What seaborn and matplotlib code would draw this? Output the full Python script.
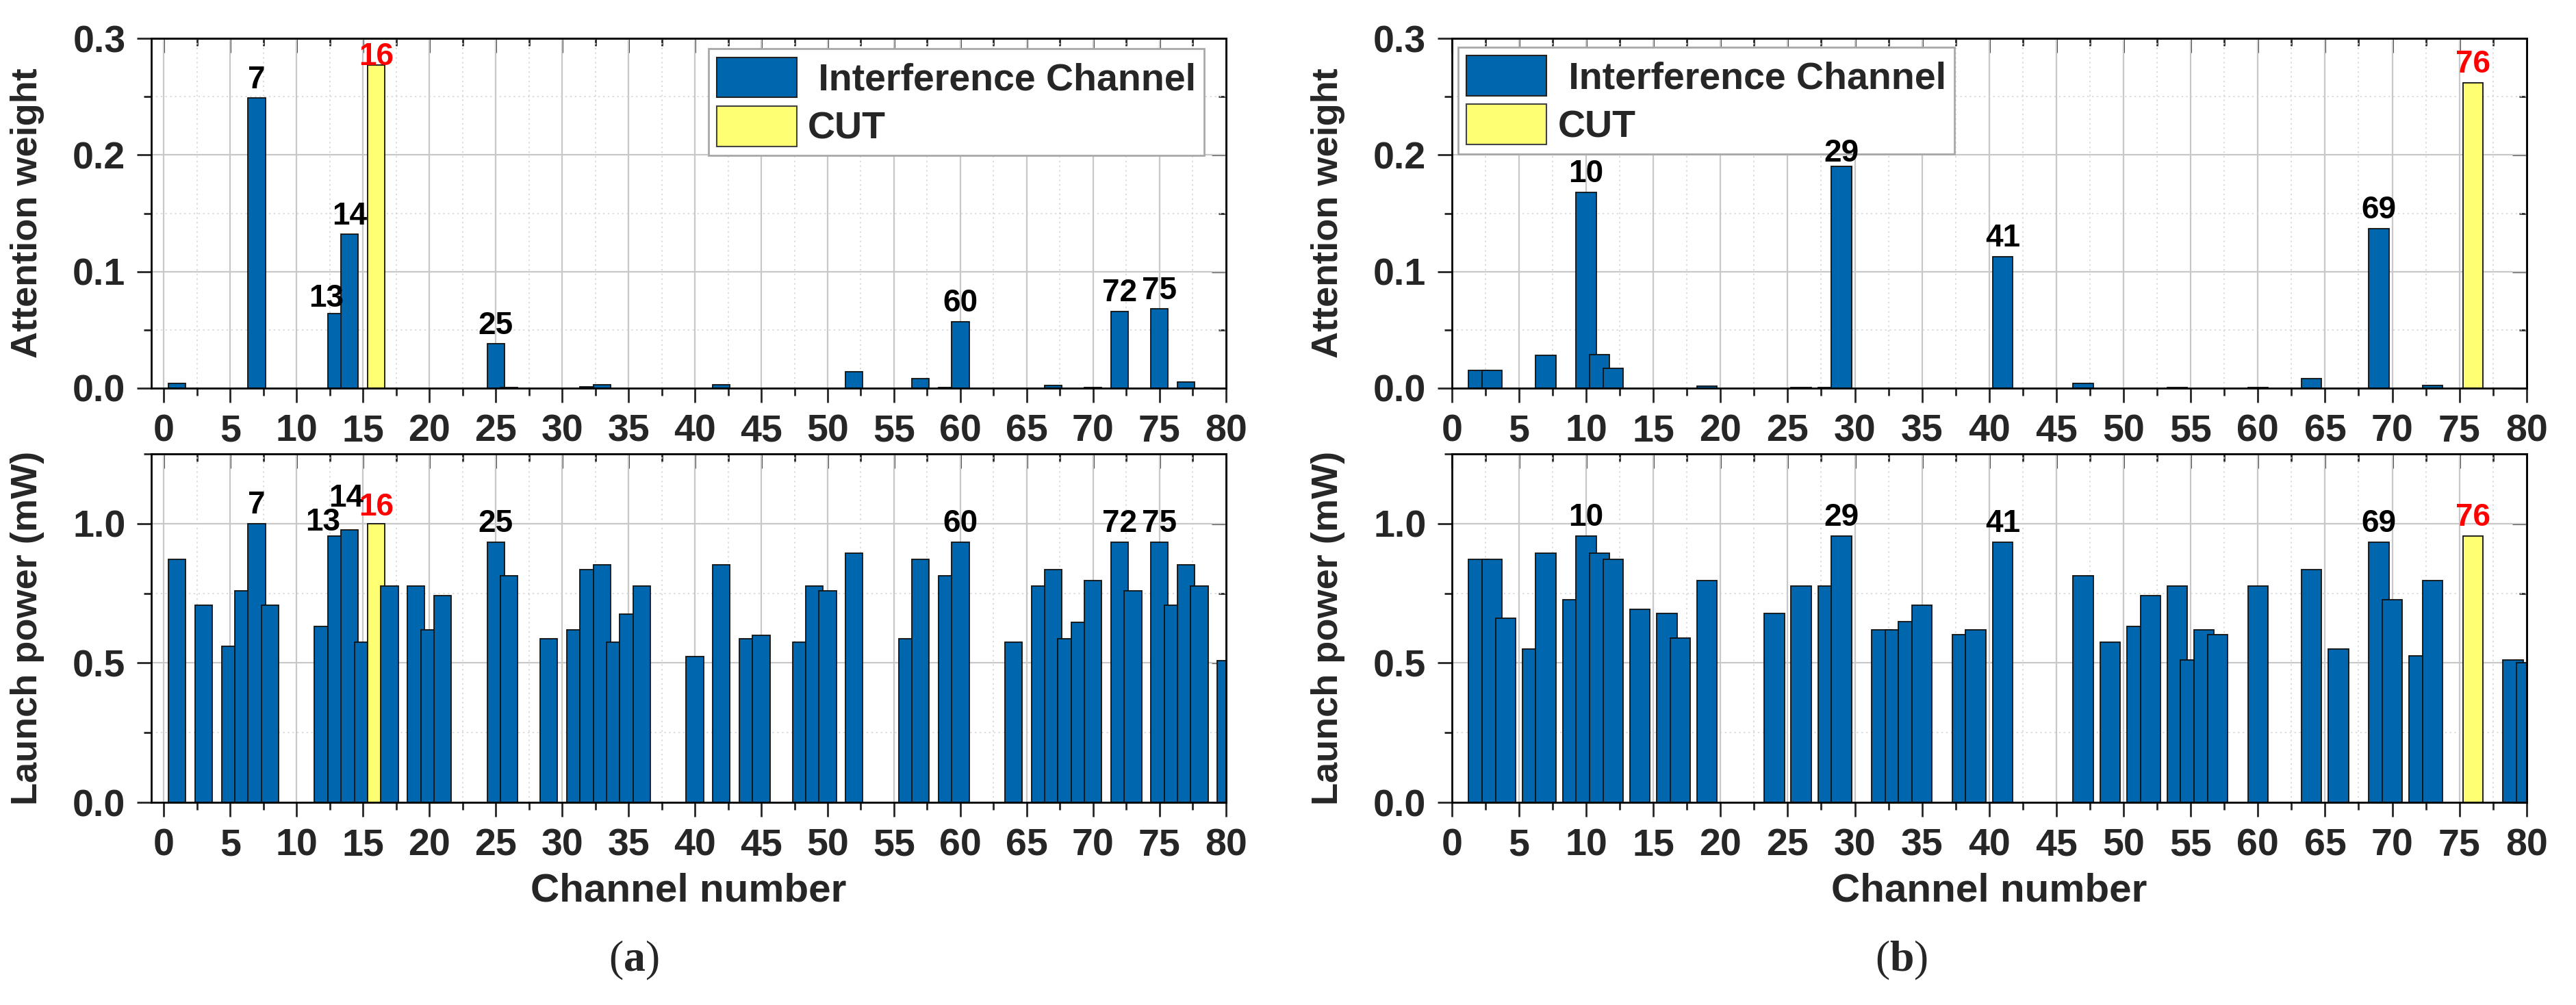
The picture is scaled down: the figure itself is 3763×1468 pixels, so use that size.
#!/usr/bin/env python3
# -*- coding: utf-8 -*-
"""
Attention weights and launch powers per channel for two CUT examples,
(a) CUT = channel 16 and (b) CUT = channel 76.
"""

#%% Imports

import pandas as pd
import seaborn as sns
from matplotlib import pyplot as plt
from matplotlib.patches import Patch
from matplotlib.ticker import MultipleLocator

#%% Data

# (a) CUT = 16
ATT_A_CH = [1, 7, 13, 14, 16, 25, 26, 32, 33, 42, 52, 57, 59, 60, 67, 70, 72, 75, 77]
ATT_A_VAL = [0.004, 0.249, 0.064, 0.132, 0.277, 0.038, 0.0005, 0.001, 0.003, 0.003,
             0.014, 0.008, 0.0005, 0.057, 0.0025, 0.0005, 0.066, 0.068, 0.0055]

POW_A_CH = [1, 3, 5, 6, 7, 8, 12, 13, 14, 15, 16, 17, 19, 20, 21, 25, 26, 29, 31, 32,
            33, 34, 35, 36, 40, 42, 44, 45, 48, 49, 50, 52, 56, 57, 59, 60, 64, 66, 67,
            68, 69, 70, 72, 73, 75, 76, 77, 78, 80]
POW_A_VAL = [0.872, 0.708, 0.561, 0.759, 1.0, 0.708, 0.632, 0.956, 0.977, 0.575, 1.0,
             0.777, 0.777, 0.618, 0.741, 0.934, 0.814, 0.588, 0.618, 0.834, 0.852, 0.575,
             0.675, 0.777, 0.523, 0.851, 0.588, 0.600, 0.575, 0.777, 0.759, 0.894, 0.588,
             0.872, 0.814, 0.934, 0.575, 0.777, 0.834, 0.588, 0.646, 0.795, 0.934, 0.759,
             0.934, 0.708, 0.851, 0.777, 0.509]

CUT_A = 16
LABELS_A = [7, 13, 14, 16, 25, 60, 72, 75]

# (b) CUT = 76
ATT_B_CH = [2, 3, 7, 10, 11, 12, 19, 26, 28, 29, 41, 47, 54, 60, 64, 69, 73, 76]
ATT_B_VAL = [0.015, 0.015, 0.028, 0.168, 0.029, 0.017, 0.002, 0.0008, 0.0008, 0.190,
             0.113, 0.004, 0.0008, 0.0008, 0.008, 0.137, 0.0025, 0.262]

POW_B_CH = [2, 3, 4, 6, 7, 9, 10, 11, 12, 14, 16, 17, 19, 24, 26, 28, 29, 32, 33, 34,
            35, 38, 39, 41, 47, 49, 51, 52, 54, 55, 56, 57, 60, 64, 66, 69, 70, 72, 73,
            76, 79, 80]
POW_B_VAL = [0.872, 0.872, 0.660, 0.550, 0.894, 0.726, 0.956, 0.894, 0.872, 0.693,
             0.677, 0.589, 0.795, 0.677, 0.777, 0.777, 0.956, 0.618, 0.618, 0.648,
             0.708, 0.602, 0.618, 0.934, 0.814, 0.575, 0.632, 0.741, 0.777, 0.512,
             0.618, 0.602, 0.777, 0.834, 0.550, 0.934, 0.726, 0.525, 0.795, 0.956,
             0.512, 0.500]

CUT_B = 76
LABELS_B = [10, 29, 41, 69, 76]

#%% Style

BLUE = '#0066AD'
YELLOW = '#FFFF73'
KINDS = ['Interference Channel', 'CUT']
PALETTE = {'Interference Channel': BLUE, 'CUT': YELLOW}

TICK_FS = 40
YLABEL_FS = 39
XLABEL_FS = 42
ANNOT_FS = 33
LEGEND_FS = 40

sns.set_style('ticks')
plt.rcParams['font.family'] = ['Liberation Sans', 'DejaVu Sans']
plt.rcParams['font.weight'] = 'bold'
plt.rcParams['axes.labelweight'] = 'bold'
plt.rcParams['mathtext.fontset'] = 'custom'
plt.rcParams['mathtext.bf'] = 'Liberation Serif:bold'
plt.rcParams['mathtext.rm'] = 'Liberation Serif'

#%% Functions

def make_frame(channels, values, cut):
    df = pd.DataFrame({'channel': channels, 'value': values})
    df['kind'] = ['CUT' if c == cut else 'Interference Channel' for c in channels]
    return df


def style_axis(ax, xlim, ylim, ymajor, yminor):
    ax.set_xlim(*xlim)
    ax.set_ylim(*ylim)
    ax.xaxis.set_major_locator(MultipleLocator(5))
    ax.xaxis.set_minor_locator(MultipleLocator(2.5))
    ax.yaxis.set_major_locator(MultipleLocator(ymajor))
    ax.yaxis.set_minor_locator(MultipleLocator(yminor))
    ax.yaxis.set_major_formatter('{x:.1f}')
    ax.set_xlabel('')
    ax.set_ylabel('')
    ax.set_axisbelow(True)
    ax.grid(which='major', color='#c8c8c8', lw=1.6)
    ax.grid(which='minor', color='#d2d2d2', lw=1.1, ls=(0, (1.5, 3)))
    for sp in ax.spines.values():
        sp.set_visible(True)
        sp.set_linewidth(2.0)
        sp.set_color('black')
    ax.tick_params(which='major', direction='out', length=15, width=2.0,
                   labelsize=TICK_FS, pad=12)
    ax.tick_params(which='minor', direction='out', length=8, width=2.0)
    for lab in ax.get_xticklabels() + ax.get_yticklabels():
        lab.set_fontweight('bold')

    # mirrored inward ticks on top and right
    top = ax.secondary_xaxis('top')
    top.xaxis.set_major_locator(MultipleLocator(5))
    top.xaxis.set_minor_locator(MultipleLocator(2.5))
    top.tick_params(which='major', direction='in', length=15, width=2.0, labeltop=False)
    top.tick_params(which='minor', direction='in', length=8, width=2.0)
    top.spines['top'].set_linewidth(2.0)
    right = ax.secondary_yaxis('right')
    right.yaxis.set_major_locator(MultipleLocator(ymajor))
    right.yaxis.set_minor_locator(MultipleLocator(yminor))
    right.tick_params(which='major', direction='in', length=15, width=2.0, labelright=False)
    right.tick_params(which='minor', direction='in', length=8, width=2.0)
    right.spines['right'].set_linewidth(2.0)


def draw_bars(ax, df, width):
    sns.barplot(data=df, x='channel', y='value', hue='kind', hue_order=KINDS,
                palette=PALETTE, native_scale=True, width=width, dodge=False,
                errorbar=None, edgecolor='#111111', linewidth=1.3, legend=False,
                saturation=1, ax=ax)
    # later channels drawn on top of earlier ones (overlapping bars)
    for p in ax.patches:
        p.set_zorder(2 + 0.001 * (p.get_x() + p.get_width() / 2))


def annotate(ax, df, labels, cut, nudges):
    for ch in labels:
        val = df.loc[df['channel'] == ch, 'value'].iloc[0]
        dx, dy = nudges.get(ch, (0, 19))
        ax.annotate(str(ch), xy=(ch, val), xytext=(dx, dy), textcoords='offset points',
                    ha='center', va='center', fontsize=ANNOT_FS, fontweight='bold',
                    color='red' if ch == cut else 'black', zorder=30)


def add_legend(ax, loc, anchor):
    handles = [Patch(facecolor=BLUE, edgecolor='#222222', lw=1.5),
               Patch(facecolor=YELLOW, edgecolor='#444444', lw=1.5)]
    leg = ax.legend(handles, [' Interference Channel', 'CUT'], loc=loc,
                    bbox_to_anchor=anchor, borderaxespad=0,
                    prop={'weight': 'bold', 'size': LEGEND_FS}, frameon=True,
                    fancybox=False, edgecolor='#a8a8a8', framealpha=1,
                    handlelength=2.1, handleheight=1.25, handletextpad=0.3,
                    labelspacing=0.2, borderpad=0.22)
    leg.get_frame().set_linewidth(2.0)
    leg.set_zorder(20)

#%% Main

fig = plt.figure(figsize=(37.63, 14.68), dpi=100)

LEFTS = [0.0587, 0.5636]
TAG_X = [0.246, 0.738]
WIDTH = 0.4172
TOP_Y, TOP_H = 0.6138, 0.348
BOT_Y, BOT_H = 0.2016, 0.3468

panels = [
    dict(att=make_frame(ATT_A_CH, ATT_A_VAL, CUT_A), pw=make_frame(POW_A_CH, POW_A_VAL, CUT_A),
         cut=CUT_A, labels=LABELS_A, width=1.3, xlim=(-0.95, 80), tag='a',
         nud_top={13: (-11, 16), 16: (0, 9)}, nud_bot={13: (-14, 14), 14: (-4, 33), 16: (0, 17)},
         legend=('upper right', (0.98, 0.97))),
    dict(att=make_frame(ATT_B_CH, ATT_B_VAL, CUT_B), pw=make_frame(POW_B_CH, POW_B_VAL, CUT_B),
         cut=CUT_B, labels=LABELS_B, width=1.5, xlim=(0, 80), tag='b',
         nud_top={29: (0, 14)}, nud_bot={},
         legend=('upper left', (0.006, 0.975))),
]

for left, tag_x, pn in zip(LEFTS, TAG_X, panels):
    ax_top = fig.add_axes([left, TOP_Y, WIDTH, TOP_H])
    ax_bot = fig.add_axes([left, BOT_Y, WIDTH, BOT_H])

    draw_bars(ax_top, pn['att'], pn['width'])
    style_axis(ax_top, pn['xlim'], (0, 0.3), 0.1, 0.05)
    annotate(ax_top, pn['att'], pn['labels'], pn['cut'], pn['nud_top'])
    ax_top.set_ylabel('Attention weight', fontsize=YLABEL_FS, fontweight='bold')
    ax_top.yaxis.set_label_coords(-0.099, 0.5)
    add_legend(ax_top, *pn['legend'])

    draw_bars(ax_bot, pn['pw'], pn['width'])
    style_axis(ax_bot, pn['xlim'], (0, 1.25), 0.5, 0.25)
    annotate(ax_bot, pn['pw'], pn['labels'], pn['cut'], pn['nud_bot'])
    ax_bot.set_ylabel('Launch power (mW)', fontsize=YLABEL_FS, fontweight='bold')
    ax_bot.yaxis.set_label_coords(-0.099, 0.5)
    ax_bot.text(0.5, -0.255, 'Channel number', transform=ax_bot.transAxes,
                ha='center', va='center', fontsize=XLABEL_FS, fontweight='bold')

    fig.text(tag_x, 0.044, r'($\mathbf{%s}$)' % pn['tag'],
             ha='center', va='center', fontsize=46, family='Liberation Serif',
             fontweight='normal')

fig.savefig('out.png', dpi=100)
plt.close()
